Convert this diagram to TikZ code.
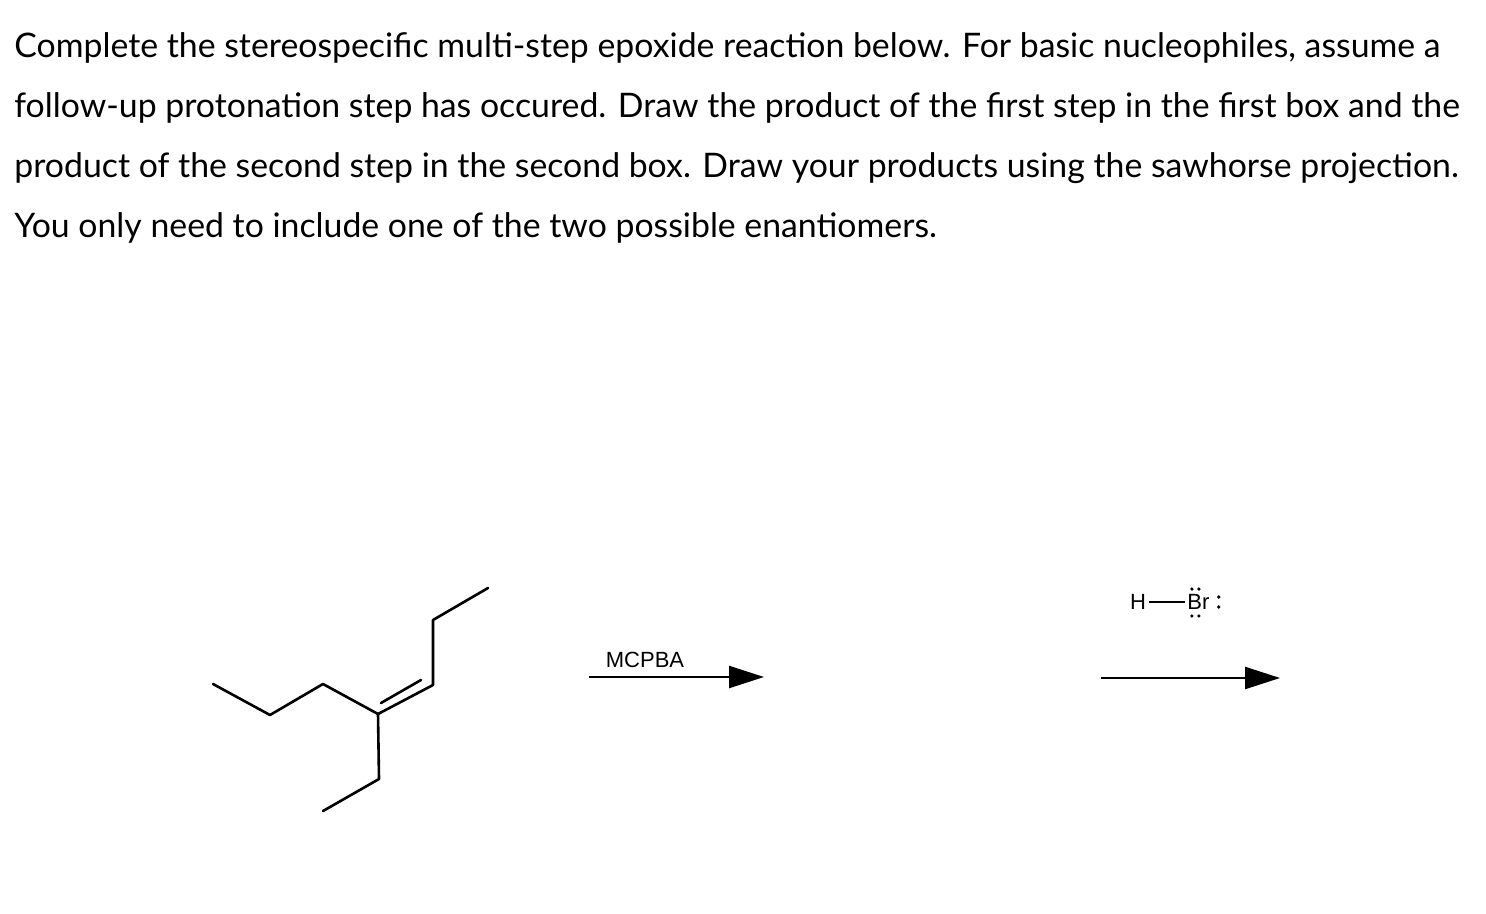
\documentclass[tikz,border=0pt]{standalone}
\usepackage{fontspec}
\setmainfont{Lato}
\newfontfamily\arial{Liberation Sans}
\usetikzlibrary{arrows.meta}
\begin{document}
\begin{tikzpicture}[x=0.5pt,y=-0.5pt,
  bond/.style={line width=1.3pt,line cap=round,line join=round},
  rxn/.style={line width=1.2pt,-{Triangle[length=17.5pt,width=11pt]}},
  para/.style={anchor=base west,inner sep=0pt,font=\fontsize{16.9pt}{20pt}\selectfont},
  lbl/.style={inner sep=0pt,font=\arial\fontsize{11pt}{13pt}\selectfont}]
\useasboundingbox (0,0) rectangle (1486,914);
\node[para] (l1) at (14,58) {Complete the stereospecific multi-step epoxide reaction below. For basic nucleophiles, assume a};
\node[para] (l2) at (14,118) {follow-up protonation step has occured. Draw the product of the first step in the first box and the};
\node[para] (l3) at (14,178) {product of the second step in the second box. Draw your products using the sawhorse projection.};
\node[para] (l4) at (14,238) {You only need to include one of the two possible enantiomers.};
% molecule
\coordinate (a) at (213,684); \coordinate (b) at (270,715); \coordinate (c) at (323,684);
\coordinate (d) at (378,714); \coordinate (e) at (433,685); \coordinate (f) at (433,620);
\coordinate (g) at (488,588); \coordinate (h) at (379,779); \coordinate (i) at (323,811);
\coordinate (d2) at (381,703); \coordinate (e2) at (421,680);
\draw[bond] (a)--(b)--(c)--(d)--(e)--(f)--(g);
\draw[bond] (d)--(h)--(i);
\draw[bond] (d2)--(e2);
% arrows
\coordinate (s1) at (589,677); \coordinate (t1) at (764,677);
\draw[rxn] (s1)--(t1);
\node[lbl] (mcpba) at (645,660) {MCPBA};
\coordinate (s2) at (1101,678); \coordinate (t2) at (1280,678);
\draw[rxn] (s2)--(t2);
\node[lbl] (hh) at (1138,602) {H};
\node[lbl,anchor=west] (br) at (1187,602) {Br};
\draw[line width=1pt] (hh.east)++(3,0) -- ([xshift=-1]br.west);
\foreach \dx in {-3.5,3.5}{
  \fill (br.north)++(\dx-3,-5) circle (1.8);
  \fill (br.south)++(\dx-3,6) circle (1.8);}
\fill (br.east)++(9,-5) circle (1.9);
\fill (br.east)++(9,5) circle (1.9);
\end{tikzpicture}
\end{document}
